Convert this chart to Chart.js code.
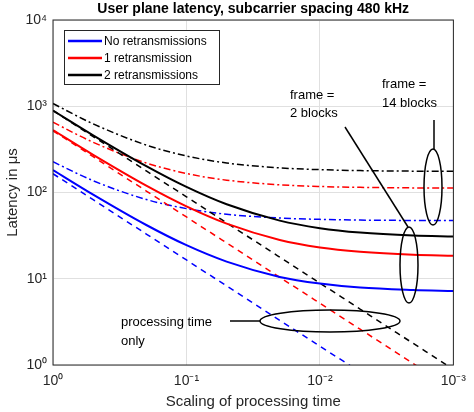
<!DOCTYPE html>
<html><head><meta charset="utf-8">
<script src="https://cdn.jsdelivr.net/npm/chart.js@4/dist/chart.umd.min.js"></script>
<style>html,body{margin:0;padding:0;background:#fff}#c{display:block}</style>
</head><body>
<canvas id="c" width="474" height="412"></canvas>
<script>
const scaling = [1, 0.5, 0.2, 0.1, 0.05, 0.02, 0.01, 0.005, 0.002, 0.001];
const noRetxTotal = [182, 94.5, 42, 24.5, 15.8, 10.5, 8.8, 7.9, 7.4, 7.2];
const oneRetxTotal = [528, 273, 120, 69, 43.5, 28.2, 23.1, 20.6, 19.0, 18.5];
const twoRetxTotal = [890, 460, 202, 116, 73, 47.2, 38.6, 34.3, 31.7, 30.9];
const noRetxProc = [165, 82.5, 33, 16.5, 8.25, 3.3, 1.65, 0.83, 0.33, 0.165];
const oneRetxProc = [520, 260, 104, 52, 26, 10.4, 5.2, 2.6, 1.04, 0.52];
const twoRetxProc = [890, 445, 178, 89, 44.5, 17.8, 8.9, 4.45, 1.78, 0.89];
const noRetx14 = [227, 137, 83, 65, 56, 50.6, 48.8, 47.9, 47.4, 47.2];
const oneRetx14 = [652, 382, 220, 166, 139, 122.8, 117.4, 114.7, 113.1, 112.5];
const twoRetx14 = [1075, 625, 355, 265, 220, 193, 184, 179.5, 176.8, 175.9];
const legendLabels = ['No retransmissions', '1 retransmission', '2 retransmissions'];
const xTickLabels = {'0': '10⁰', '-1': '10⁻¹', '-2': '10⁻²', '-3': '10⁻³'};
const yTickLabels = {'0': '10⁰', '1': '10¹', '2': '10²', '3': '10³', '4': '10⁴'};

const BLUE = '#0000ff', RED = '#ff0000', BLACK = '#000000';
function ds(data, color, dash, w) {
  return { data: data.map((v, i) => ({x: scaling[i], y: v})), borderColor: color,
    borderDash: dash, borderWidth: w, pointRadius: 0, fill: false,
    cubicInterpolationMode: 'monotone' };
}
const datasets = [
  ds(noRetxTotal, BLUE, [], 2), ds(oneRetxTotal, RED, [], 2), ds(twoRetxTotal, BLACK, [], 2),
  ds(noRetxProc, BLUE, [6, 5], 1.5), ds(oneRetxProc, RED, [6, 5], 1.5), ds(twoRetxProc, BLACK, [6, 5], 1.5),
  ds(noRetx14, BLUE, [7, 3, 2, 3], 1.5), ds(oneRetx14, RED, [7, 3, 2, 3], 1.5), ds(twoRetx14, BLACK, [7, 3, 2, 3], 1.5)
];
const FONT = '"Liberation Sans", Arial, sans-serif';
function isDecade(v) { const l = Math.log10(v); return Math.abs(l - Math.round(l)) < 1e-6; }

const deco = {
  id: 'deco',
  afterDraw(chart) {
    const c = chart.ctx, a = chart.chartArea;
    c.save();
    // box
    c.strokeStyle = '#262626'; c.lineWidth = 1;
    c.strokeRect(a.left, a.top, a.right - a.left, a.bottom - a.top);
    // title
    c.fillStyle = '#000'; c.font = 'bold 14px ' + FONT; c.textAlign = 'center'; c.textBaseline = 'middle';
    c.fillText('User plane latency, subcarrier spacing 480 kHz', (a.left + a.right) / 2, 9);
    // axis titles
    c.fillStyle = '#262626'; c.font = '15px ' + FONT;
    c.fillText('Scaling of processing time', (a.left + a.right) / 2, 402);
    c.save(); c.translate(13, (a.top + a.bottom) / 2); c.rotate(-Math.PI / 2);
    c.fillText('Latency in μs', 0, 0); c.restore();
    // legend
    c.fillStyle = '#fff'; c.fillRect(64, 30, 155, 54);
    c.strokeStyle = '#262626'; c.strokeRect(64.5, 30.5, 155, 54);
    c.font = '12px ' + FONT; c.textAlign = 'left';
    [BLUE, RED, BLACK].forEach((col, i) => {
      const y = 41 + i * 17;
      c.strokeStyle = col; c.lineWidth = 2.5; c.beginPath(); c.moveTo(68, y); c.lineTo(102, y); c.stroke();
      c.fillStyle = '#000'; c.fillText(legendLabels[i], 104, y + 1);
    });
    // annotations
    c.strokeStyle = '#000'; c.lineWidth = 1.5;
    function ell(x, y, rx, ry) { c.beginPath(); c.ellipse(x, y, rx, ry, 0, 0, 2 * Math.PI); c.stroke(); }
    function ln(x1, y1, x2, y2) { c.beginPath(); c.moveTo(x1, y1); c.lineTo(x2, y2); c.stroke(); }
    ell(330, 321, 70, 11); ln(230, 321, 260, 321);
    ell(409, 265, 9, 38); ln(345, 127, 408, 227);
    ell(433, 187, 9, 38); ln(434, 120, 434, 149);
    c.fillStyle = '#000'; c.font = '13px ' + FONT;
    c.fillText('processing time', 121, 322); c.fillText('only', 121, 341);
    c.fillText('frame =', 290, 95); c.fillText('2 blocks', 290, 113);
    c.fillText('frame =', 382, 84); c.fillText('14 blocks', 382, 103);
    c.restore();
  }
};

new Chart(document.getElementById('c'), {
  type: 'line',
  data: { datasets },
  options: {
    responsive: false, animation: false, devicePixelRatio: 1,
    layout: { padding: { left: 0, top: 20, right: 20, bottom: 0 } },
    plugins: { legend: { display: false }, tooltip: { enabled: false } },
    scales: {
      x: { type: 'logarithmic', reverse: true, min: 0.001, max: 1,
        afterFit(s) { s.height = 47; },
        grid: { color: ctx => isDecade(ctx.tick.value) ? '#e0e0e0' : 'rgba(0,0,0,0)', drawTicks: false },
        border: { display: false },
        ticks: { autoSkip: false, maxRotation: 0, padding: 8, color: '#262626', font: { size: 14, family: FONT },
          callback: v => isDecade(v) ? xTickLabels[String(Math.round(Math.log10(v)))] : '' },
        afterBuildTicks(s) { s.ticks = [1, 0.1, 0.01, 0.001].map(v => ({value: v})); } },
      y: { type: 'logarithmic', min: 1, max: 10000,
        afterFit(s) { s.width = 53; },
        grid: { color: '#e0e0e0', drawTicks: false }, border: { display: false },
        ticks: { autoSkip: false, padding: 6, color: '#262626', font: { size: 14, family: FONT },
          callback: v => yTickLabels[String(Math.round(Math.log10(v)))] },
        afterBuildTicks(s) { s.ticks = [1, 10, 100, 1000, 10000].map(v => ({value: v})); } }
    }
  },
  plugins: [deco]
});
</script>
</body></html>
